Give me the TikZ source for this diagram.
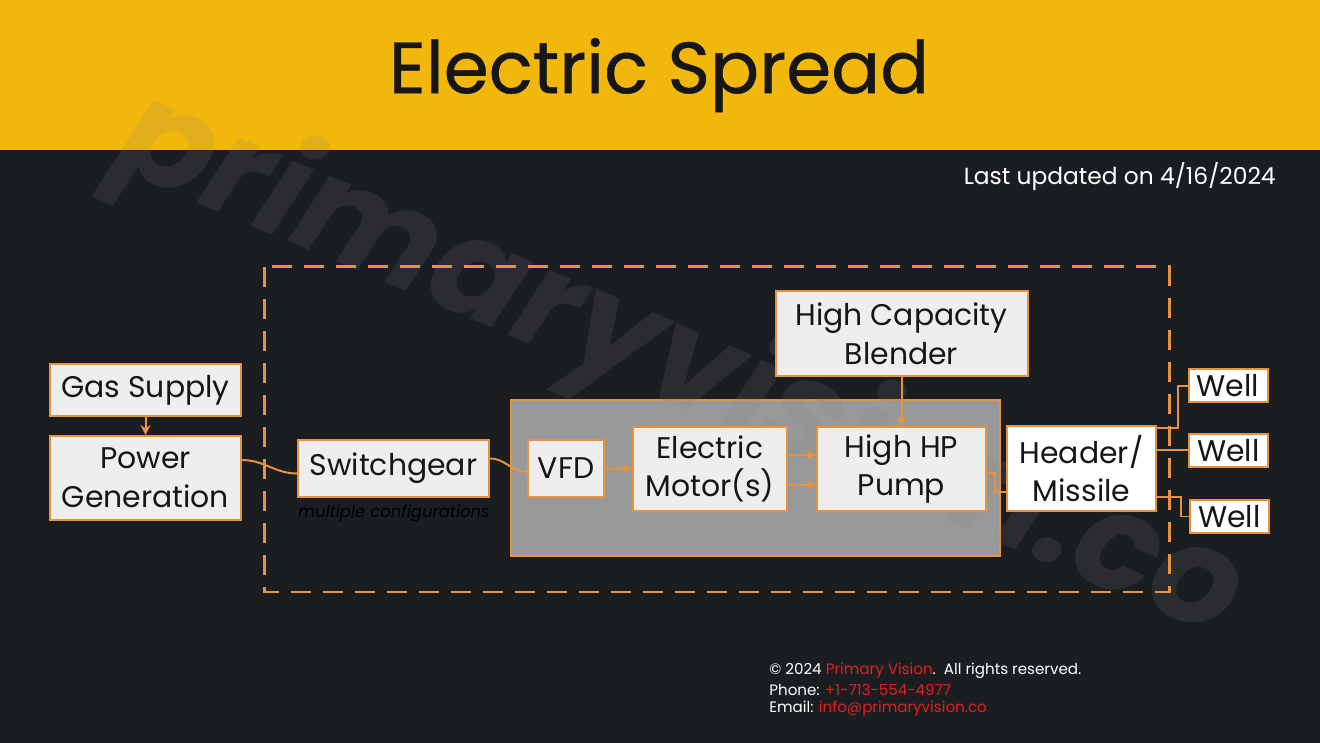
\documentclass[tikz,border=0pt]{standalone}
\usepackage{fontspec}
\setmainfont{Poppins}
\usetikzlibrary{arrows.meta}
\definecolor{bgdark}{RGB}{27,30,33}
\definecolor{banner}{RGB}{242,183,12}
\definecolor{lineorange}{RGB}{232,145,63}
\definecolor{boxfill}{RGB}{238,238,238}
\definecolor{panelgray}{RGB}{152,153,154}
\definecolor{inkblack}{RGB}{22,22,22}
\definecolor{linkred}{RGB}{228,30,30}
\tikzset{
  box/.style={draw=lineorange, fill=boxfill, line width=0.04cm, inner sep=0pt, text=inkblack,
    align=center, font=\fontsize{17}{22}\selectfont},
  wellbox/.style={box, fill=white, minimum width=79*0.02cm, minimum height=33*0.02cm},
  link/.style={draw=lineorange, line width=0.04cm},
  flow/.style={link, -{Stealth[length=0.2cm,width=0.2cm]}},
  foot/.style={anchor=west, text=white, inner sep=0pt, font=\fontsize{8.6}{10}\selectfont}
}
\begin{document}
\begin{tikzpicture}[x=0.02cm,y=-0.02cm]
\useasboundingbox (0,0) rectangle (1320,743);
\fill[bgdark] (0,0) rectangle (1320,743);
\fill[banner] (0,0) rectangle (1320,150);
\node (title) at (659,75) [text=inkblack, font=\fontsize{41.3}{46}\selectfont\addfontfeature{FakeBold=0.6}] {Electric Spread};
\node (updated) at (1276,177) [anchor=east, inner sep=0pt, text=white, font=\fontsize{13.3}{16}\selectfont] {Last updated on 4/16/2024};

% grey group and watermark
\fill[panelgray, draw=lineorange, line width=0.04cm] (511,400) rectangle (1000,556);
\node (mark) at (680,368) [rotate=-23, text=gray, text opacity=0.15,
  font=\fontsize{78}{78}\bfseries\itshape\selectfont] {primaryvision.co};
\draw[lineorange, line width=0.06cm, dash pattern=on 0.4cm off 0.24cm] (264,267) rectangle (1169,592);

% blocks
\node[box, minimum width=191*0.02cm, minimum height=52*0.02cm] (gas) at (145.5,390) {Gas Supply};
\node[box, minimum width=191*0.02cm, minimum height=84*0.02cm] (power) at (145.5,478) {Power\\Generation};
\node[box, minimum width=191*0.02cm, minimum height=57*0.02cm] (switch) at (393.5,468.5) {Switchgear};
\node (config) at (394,513) [text=black, font=\fontsize{9.4}{11}\itshape\selectfont] {multiple configurations};
\node[box, minimum width=76*0.02cm, minimum height=57*0.02cm] (vfd) at (566,468.5) {VFD};
\node[box, minimum width=154*0.02cm, minimum height=84*0.02cm] (motor) at (710,469) {Electric\\Motor(s)};
\node[box, minimum width=169*0.02cm, minimum height=84*0.02cm] (pump) at (901.5,469) {High HP\\Pump};
\node[box, minimum width=252*0.02cm, minimum height=85*0.02cm] (blender) at (901.5,333.5) {High Capacity\\Blender};
\node[box, fill=white, minimum width=149*0.02cm, minimum height=85*0.02cm] (header) at (1081.5,468.5) {Header/\\Missile};
\node[wellbox] (well1) at (1228,386) {Well};
\node[wellbox] (well2) at (1228.5,450.5) {Well};
\node[wellbox] (well3) at (1229.5,516.5) {Well};

% connectors
\draw[flow] (gas) -- (power);
\draw[link] ([yshift=0.36cm]power.east) to[out=0,in=180] ([yshift=-0.1cm]switch.west);
\draw[link] ([yshift=0.2cm]switch.east) to[out=0,in=180] ([yshift=-0.07cm]vfd.west);
\draw[flow] (vfd) -- (motor);
\draw[flow] ([yshift=0.28cm]motor.east) -- ([yshift=0.28cm]pump.west);
\draw[flow] ([yshift=-0.32cm]motor.east) -- ([yshift=-0.32cm]pump.west);
\draw[flow] (blender) -- (pump);
\draw[link] ([yshift=-0.08cm]pump.east) -- ++(0.16cm,0) |- ([yshift=-0.47cm]header.west);
\draw[link] ([yshift=0.81cm]header.east) -- ++(0.42cm,0) |- (well1.west);
\draw[link] (header.east |- well2.west) -- (well2.west);
\draw[link] ([yshift=-0.57cm]header.east) -- ++(0.48cm,0) |- (well3.west);

% footer
\node[foot] (copy) at (769,671) {\textcopyright{} 2024 \textcolor{linkred}{Primary Vision}.\ \ All rights reserved.};
\node[foot] (phone) at (769,690) {Phone: \textcolor{linkred}{+1-713-554-4977}};
\node[foot] (mail) at (769,709) {Email: \textcolor{linkred}{info@primaryvision.co}};
\end{tikzpicture}
\end{document}
